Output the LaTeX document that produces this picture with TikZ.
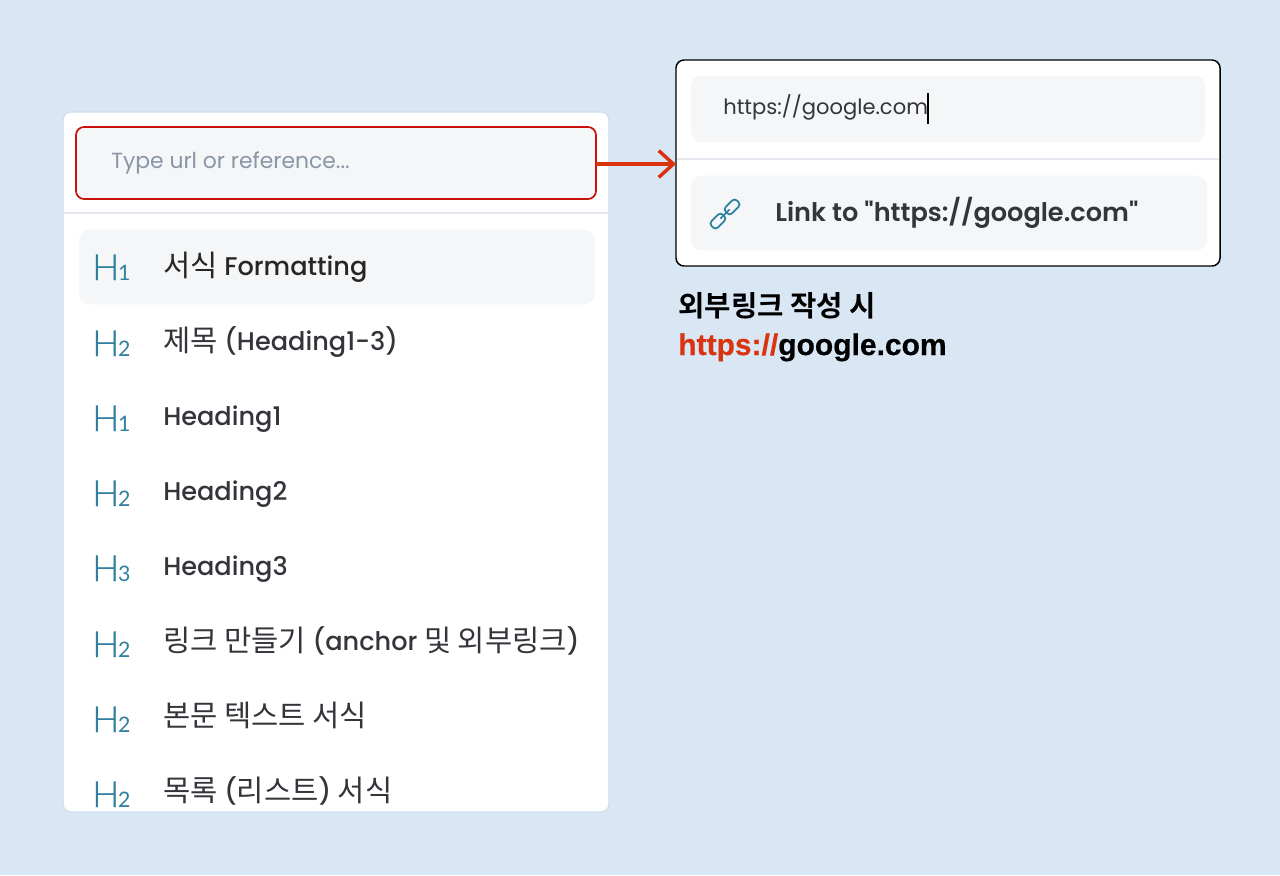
\documentclass[tikz,border=0pt]{standalone}
\usepackage{fontspec}
\usetikzlibrary{arrows.meta}
\setmainfont{Poppins}
\newfontfamily\krm{Noto Sans CJK KR}[BoldFont={Noto Sans CJK KR Bold}]
\newfontfamily\iconf{Lato Light}[FakeBold=0.6]
\newfontfamily\icond{Lato}
\newfontfamily\latm{Poppins Medium}
\newfontfamily\latsb{Poppins SemiBold}
\newfontfamily\capf{Liberation Sans}[BoldFeatures={FakeBold=0.4}]
\definecolor{bgc}{HTML}{D9E6F3}
\definecolor{cardedge}{HTML}{CFDEEE}
\definecolor{fieldc}{HTML}{F5F6F8}
\definecolor{sepc}{HTML}{E4E9EF}
\definecolor{redc}{HTML}{C9130A}
\definecolor{arrowc}{HTML}{D9330F}
\definecolor{tealc}{HTML}{2F7F9E}
\definecolor{inkc}{HTML}{33353B}
\definecolor{greyc}{HTML}{8A96A6}
\tikzset{
  x=0.75pt,y=-0.75pt,
  box/.style={rounded corners=6pt,inner sep=0pt,outer sep=0pt},
  field/.style={box,fill=fieldc,rounded corners=8pt},
  hicon/.style={anchor=base west,inner sep=0pt,text=tealc,font=\iconf\fontsize{27}{27}\selectfont},
  itemtxt/.style={anchor=base west,inner sep=0pt,text=inkc,font=\latm\fontsize{19.2}{22}\selectfont},
  sep/.style={draw=sepc,line width=1.2pt,shorten <=0.8pt,shorten >=0.8pt},
}
\newcommand{\ko}[1]{\raisebox{-1.2pt}{\krm\fontsize{22.2}{22}\selectfont #1}}
\newcommand{\hsub}[1]{H\kern-1pt{\icond\fontsize{16}{16}\selectfont #1}}
\begin{document}
\begin{tikzpicture}
\useasboundingbox (0,0) rectangle (1280,875);
\fill[bgc] (0,0) rectangle (1280,875);
% left card
\node[box,draw=cardedge,line width=0.9pt,fill=white,minimum width=409.5pt,minimum height=525pt] (left) at (336,462) {};
\node[box,draw=redc,line width=1.3pt,fill=fieldc,minimum width=390pt,minimum height=54pt] (input) at (336,163) {};
\node[anchor=base west,inner sep=0pt,text=greyc,font=\fontsize{16.4}{18}\selectfont] (ph) at (111,168) {Type url or reference...};
\coordinate (sl) at (left.west |- 0,213);
\coordinate (sr) at (left.east |- 0,213);
\draw[sep] (sl) -- (sr);
\node[field,minimum width=387pt,minimum height=56pt] (hl) at (337,267) {};
\begin{scope}
\clip (64,112) rectangle (608,808);
\node[hicon] (i1) at (92,280) {\hsub{1}};
\node[hicon] (i2) at (92,356) {\hsub{2}};
\node[hicon] (i3) at (92,431) {\hsub{1}};
\node[hicon] (i4) at (92,506) {\hsub{2}};
\node[hicon] (i5) at (92,581) {\hsub{3}};
\node[hicon] (i6) at (92,657) {\hsub{2}};
\node[hicon] (i7) at (92,732) {\hsub{2}};
\node[hicon] (i8) at (92,807) {\hsub{2}};
\node[itemtxt,text=black!85] (t1) at (163,275) {\ko{서식} Formatting};
\node[itemtxt] (t2) at (163,350) {\ko{제목} (Heading1-3)};
\node[itemtxt] (t3) at (163,425) {Heading1};
\node[itemtxt] (t4) at (163,500) {Heading2};
\node[itemtxt] (t5) at (163,575) {Heading3};
\node[itemtxt] (t6) at (163,650) {\ko{링크 만들기} (anchor \ko{및 외부링크})};
\node[itemtxt] (t7) at (163,725) {\ko{본문 텍스트 서식}};
\node[itemtxt] (t8) at (163,800) {\ko{목록} (\ko{리스트}) \ko{서식}};
\end{scope}
% right card
\node[box,draw=black,line width=1.1pt,fill=white,minimum width=408pt,minimum height=154.5pt] (right) at (948,163) {};
\node[field,minimum width=385.5pt,minimum height=50pt] (url) at (948,109) {};
\coordinate (rl) at (right.west |- 0,159);
\coordinate (rr) at (right.east |- 0,159);
\draw[sep] (rl) -- (rr);
\node[field,minimum width=387pt,minimum height=56pt] (lnk) at (949,213) {};
\node[anchor=base west,inner sep=0pt,text=inkc,font=\fontsize{15.8}{18}\selectfont] (urltxt) at (723,114) {https://google.com};
\coordinate (c1) at (928,93);
\coordinate (c2) at (928,124);
\draw[black,line width=0.8pt] (c1) -- (c2);
% link icon
\begin{scope}[shift={(725,214)},rotate=45]
\draw[tealc,line width=1.3pt,rounded corners=2.6pt] (-2,-4.5) rectangle (-18,4.5);
\draw[tealc,line width=1.3pt,rounded corners=2.6pt] (2,-4.5) rectangle (18,4.5);
\draw[tealc,line width=1.3pt,line cap=round] (-6,0) -- (6,0);
\end{scope}
\node[anchor=base west,inner sep=0pt,text=inkc,font=\latsb\fontsize{19.2}{22}\selectfont] (lt) at (775,221) {Link to "https://google.com"};
% caption
\node[anchor=base west,inner sep=0pt,text=black,font=\krm\bfseries\fontsize{21.5}{24}\selectfont] (cap1) at (678,316) {외부링크 작성 시};
\node[anchor=base west,inner sep=0pt,text=black,font=\capf\bfseries\fontsize{22.5}{26}\selectfont] (cap2) at (678,355) {\textcolor{arrowc}{https://}google.com};
% connector
\draw[arrowc,line width=2.6pt,-{Straight Barb[length=11pt,width=20pt,line width=2.6pt]}] (input.east) ++(0,1) -- (right.west |- 0,164);
\end{tikzpicture}
\end{document}
